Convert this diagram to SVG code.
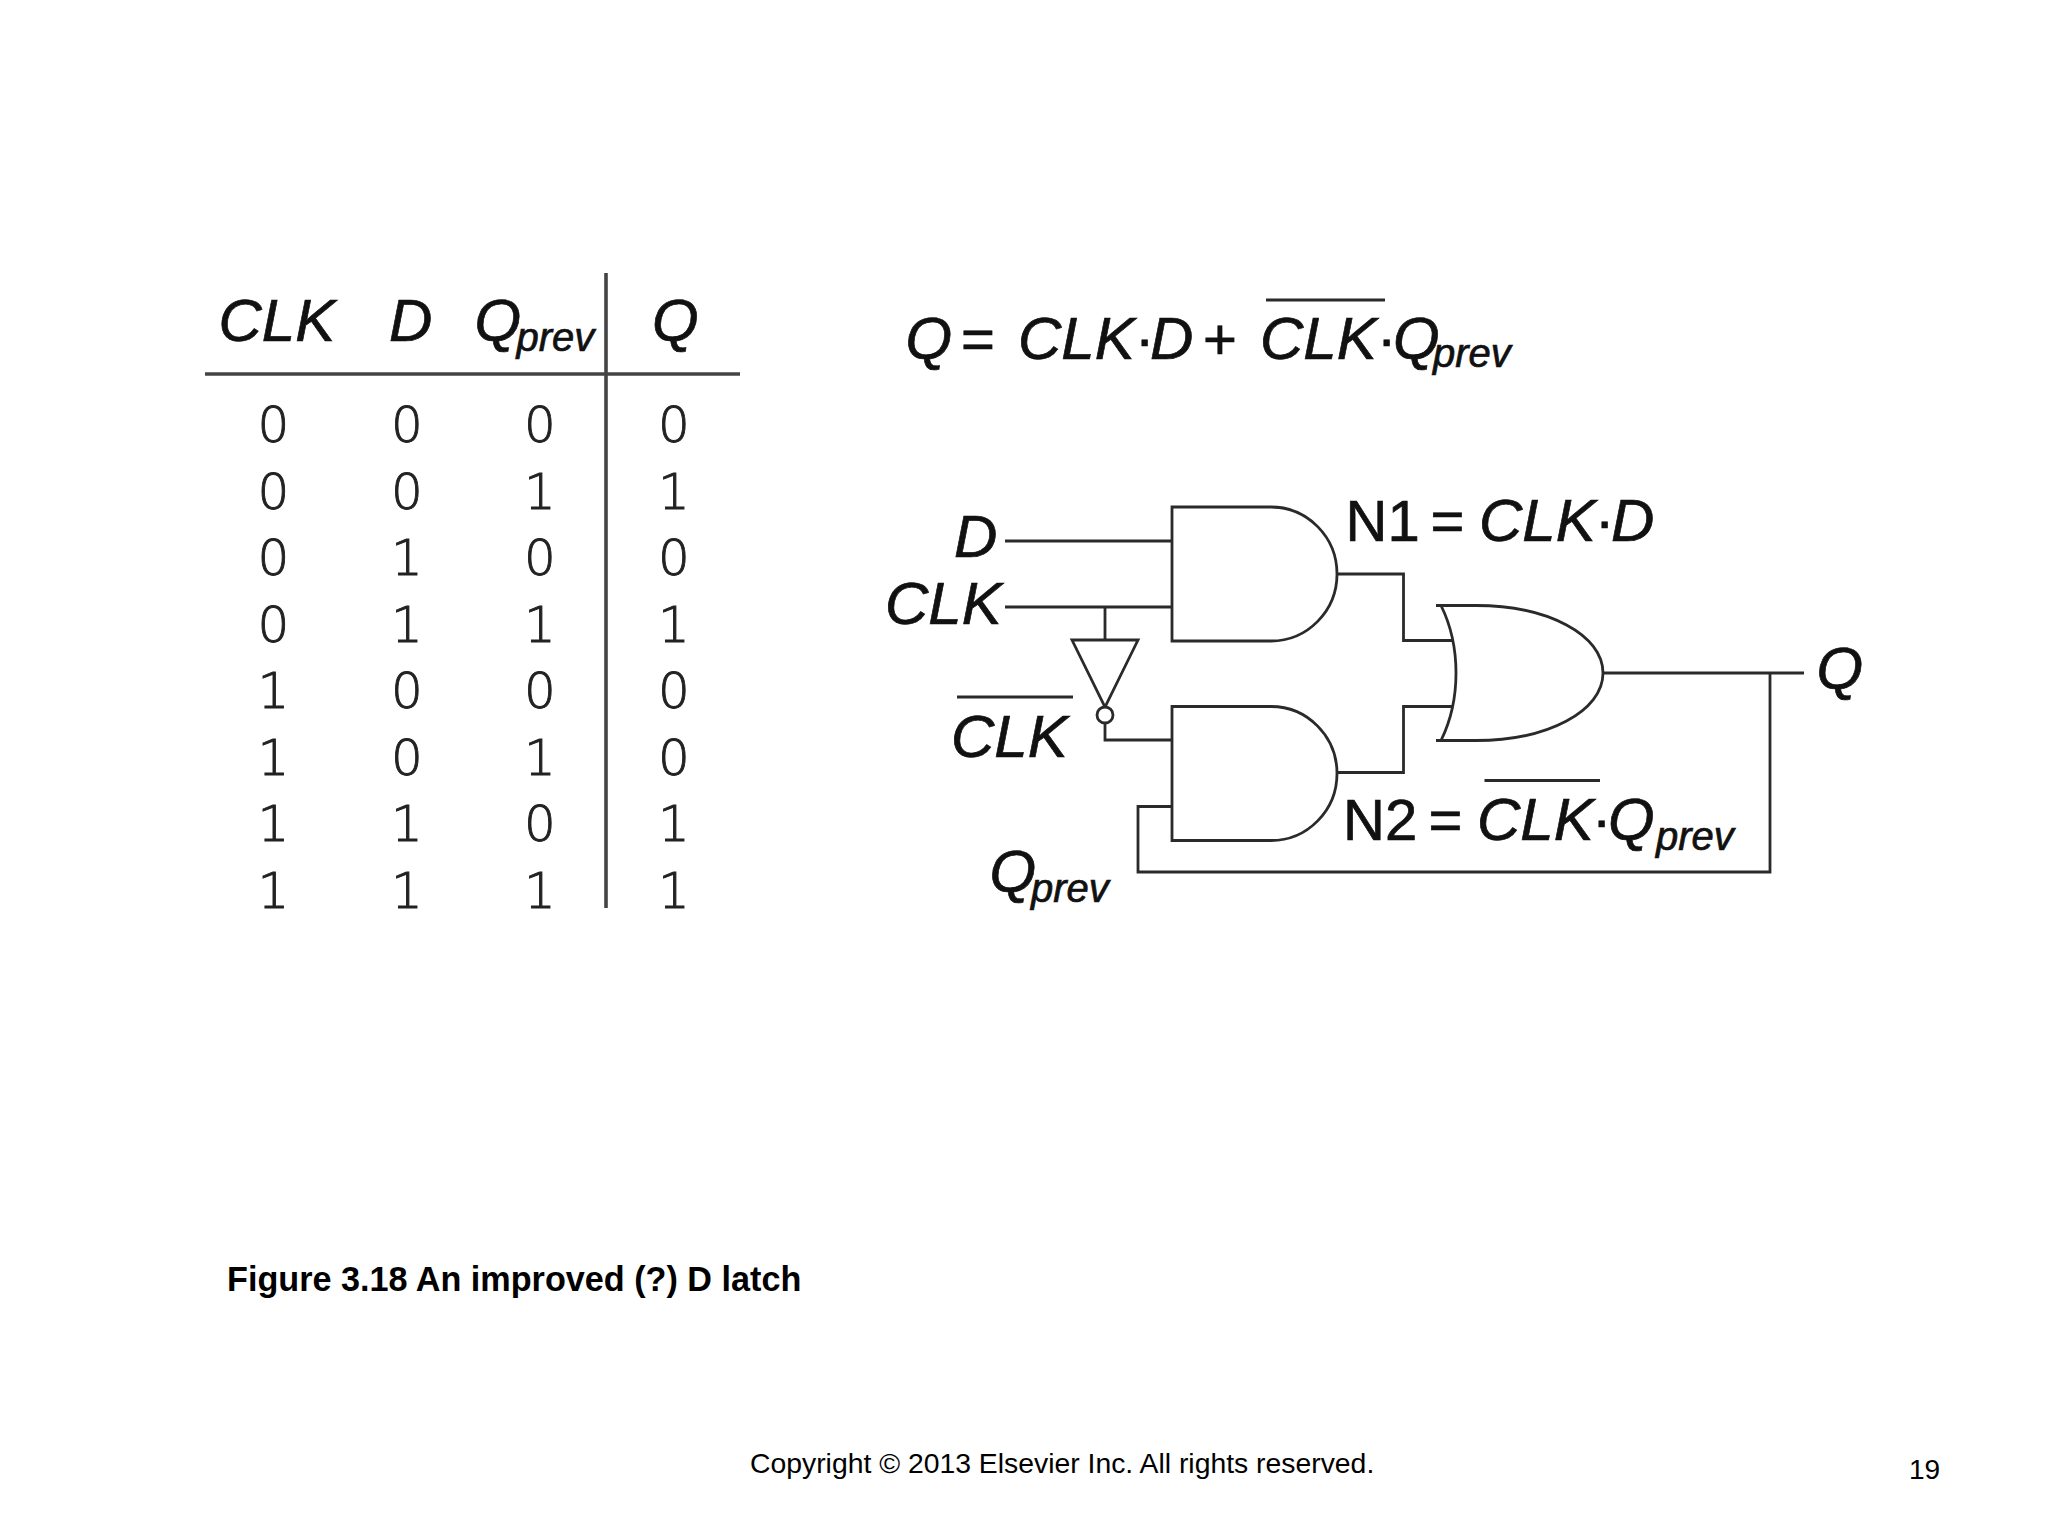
<svg xmlns="http://www.w3.org/2000/svg" width="2048" height="1536" viewBox="0 0 2048 1536">
<style>
text{font-family:"Liberation Sans",Arial,sans-serif;fill:#111}
.m{stroke:#111;stroke-width:.7}
.i{font-style:italic;font-size:60px}
.s{font-style:italic;font-size:40px}
.r{font-size:58px}
.d{font-family:"DejaVu Sans",sans-serif;font-weight:200;font-size:50px;text-anchor:middle;fill:#222;stroke:#222;stroke-width:.9}
.w{fill:none;stroke:#2a2a2a;stroke-width:2.8}
.g{fill:#fff;stroke:#2a2a2a;stroke-width:2.8}
.t{stroke:#444;stroke-width:3.6;fill:none}
.f{fill:#000}
</style>
<rect width="2048" height="1536" fill="#fff"/>
<g id="truth-table">
<line class="t" x1="606" y1="273" x2="606" y2="908"/>
<line class="t" x1="205" y1="374" x2="740" y2="374"/>
<text class="m"><tspan class="i" x="218.5" y="341">CLK</tspan><tspan class="i" x="389" y="341">D</tspan><tspan class="i" x="474.5" y="341">Q</tspan><tspan class="s" x="516.5" y="351">prev</tspan><tspan class="i" x="652" y="341">Q</tspan></text>
<g id="digits">
<text class="d" x="273.5" y="442">0</text><text class="d" x="407" y="442">0</text><text class="d" x="540" y="442">0</text><text class="d" x="674" y="442">0</text>
<text class="d" x="273.5" y="508.5">0</text><text class="d" x="407" y="508.5">0</text><text class="d" x="540" y="508.5">1</text><text class="d" x="674" y="508.5">1</text>
<text class="d" x="273.5" y="575">0</text><text class="d" x="407" y="575">1</text><text class="d" x="540" y="575">0</text><text class="d" x="674" y="575">0</text>
<text class="d" x="273.5" y="641.5">0</text><text class="d" x="407" y="641.5">1</text><text class="d" x="540" y="641.5">1</text><text class="d" x="674" y="641.5">1</text>
<text class="d" x="273.5" y="708">1</text><text class="d" x="407" y="708">0</text><text class="d" x="540" y="708">0</text><text class="d" x="674" y="708">0</text>
<text class="d" x="273.5" y="774.5">1</text><text class="d" x="407" y="774.5">0</text><text class="d" x="540" y="774.5">1</text><text class="d" x="674" y="774.5">0</text>
<text class="d" x="273.5" y="841">1</text><text class="d" x="407" y="841">1</text><text class="d" x="540" y="841">0</text><text class="d" x="674" y="841">1</text>
<text class="d" x="273.5" y="907.5">1</text><text class="d" x="407" y="907.5">1</text><text class="d" x="540" y="907.5">1</text><text class="d" x="674" y="907.5">1</text>
</g>
</g>
<g id="equation">
<text class="m"><tspan class="i" x="905.5" y="358.5">Q</tspan><tspan class="r" x="961" y="358.5">=</tspan><tspan class="i" x="1018" y="358.5">CLK</tspan><tspan class="r" x="1135" y="358.5">·</tspan><tspan class="i" x="1150" y="358.5">D</tspan><tspan class="r" x="1203" y="358.5">+</tspan><tspan class="i" x="1260" y="358.5">CLK</tspan><tspan class="r" x="1377" y="358.5">·</tspan><tspan class="i" x="1393" y="358.5">Q</tspan><tspan class="s" x="1433" y="367">prev</tspan></text>
<line class="w" x1="1266" y1="300" x2="1385" y2="300"/>
</g>
<g id="connectors">
<path class="w" d="M1005 541H1172"/>
<path class="w" d="M1005 607H1172"/>
<path class="w" d="M1105 607V640"/>
<path class="w" d="M1105 723V740H1172"/>
<path class="w" d="M1337 574H1403.5V640.5H1453"/>
<path class="w" d="M1337 772.5H1403.5V706.5H1453"/>
<path class="w" d="M1603 673H1804"/>
<path class="w" d="M1770 673V872H1138V806.5H1172"/>
</g>
<g id="and-gate-1"><path class="g" d="M1172 507H1271A66 67 0 0 1 1271 641H1172Z"/></g>
<g id="and-gate-2"><path class="g" d="M1172 706.5H1271A66 67 0 0 1 1271 840.5H1172Z"/></g>
<g id="or-gate"><path class="g" d="M1436 605.5H1476C1548 605.5 1603 635 1603 673C1603 711 1548 740.5 1476 740.5H1436L1441 740.5C1461 700 1461 646 1441 605.5Z"/></g>
<g id="inverter"><path class="g" d="M1072 640H1138L1105 707Z"/><circle class="g" cx="1105" cy="715" r="8"/></g>
<g id="labels">
<text class="m"><tspan class="i" x="954" y="557">D</tspan></text>
<text class="m"><tspan class="i" x="885" y="624">CLK</tspan></text>
<text class="m"><tspan class="i" x="951" y="757">CLK</tspan></text>
<line class="w" x1="957" y1="697" x2="1073" y2="697"/>
<text class="m"><tspan class="i" x="1816.5" y="689">Q</tspan></text>
<text class="m"><tspan class="i" x="989.5" y="892">Q</tspan><tspan class="s" x="1031" y="902">prev</tspan></text>
<text class="m"><tspan class="r" x="1345.5" y="541">N1</tspan><tspan class="r" x="1430.5" y="541">=</tspan><tspan class="i" x="1479" y="541">CLK</tspan><tspan class="r" x="1595" y="541">·</tspan><tspan class="i" x="1611" y="541">D</tspan></text>
<text class="m"><tspan class="r" x="1343" y="840">N2</tspan><tspan class="r" x="1428.5" y="840">=</tspan><tspan class="i" x="1477" y="840">CLK</tspan><tspan class="r" x="1592" y="840">·</tspan><tspan class="i" x="1608" y="840">Q</tspan><tspan class="s" x="1656" y="850">prev</tspan></text>
<line class="w" x1="1484.5" y1="780.5" x2="1600" y2="780.5"/>
</g>
<g id="footer">
<text class="f" x="227" y="1291" font-size="34.2" font-weight="700">Figure 3.18 An improved (?) D latch</text>
<text class="f" x="750" y="1473" font-size="28.35">Copyright © 2013 Elsevier Inc. All rights reserved.</text>
<text class="f" x="1909" y="1478.5" font-size="28">19</text>
</g>
</svg>
